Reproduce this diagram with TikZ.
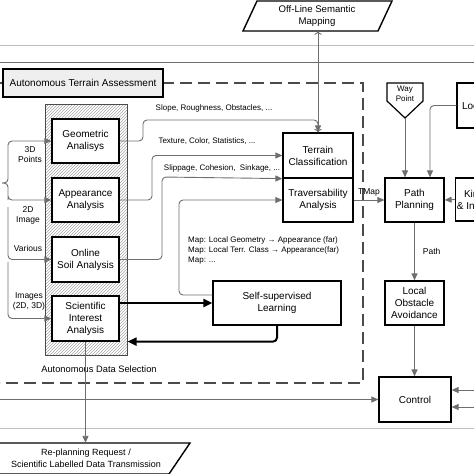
\documentclass[tikz,border=0pt]{standalone}
\usepackage{fontspec}
\setmainfont{Liberation Sans}
\usetikzlibrary{arrows.meta,calc,patterns}
\definecolor{wire}{HTML}{6E6E6E}
\definecolor{rule}{HTML}{BDBDBD}
\definecolor{frame}{HTML}{4A4A4A}
\definecolor{hatch}{HTML}{A8A8A8}
\definecolor{tag}{HTML}{EFEFEF}

\begin{document}
\begin{tikzpicture}[x=1pt,y=-1pt,
  box/.style={draw=black,line width=1.2pt,fill=white,align=center,inner sep=1pt,font=\fontsize{10}{12}\selectfont},
  conn/.style={draw=wire,line width=0.9pt,rounded corners=4pt,-{Triangle[width=6pt,length=7pt]}},
  bold/.style={draw=black,line width=2pt,rounded corners=4pt,-{Triangle[width=8pt,length=9pt]}},
  note/.style={font=\fontsize{8}{10}\selectfont,inner sep=0pt},
  side/.style={font=\fontsize{8.5}{10}\selectfont,align=center,inner sep=0pt}]
  \useasboundingbox (0,0) rectangle (474,474);

  % Horizontal separators of the enclosing figure.
  \draw[rule,line width=0.8pt] (0,45) -- (474,45);
  \draw[wire,line width=1pt] (0,62) -- (474,62);
  \draw[rule,line width=0.8pt] (0,428) -- (474,428);

  % Dashed frame of the terrain assessment block with its title tag.
  \draw[frame,line width=1.1pt,dash pattern=on 12pt off 6pt] (0,83) -- (363,83) -- (363,383) -- (0,383);
  \node[draw=black,line width=1.1pt,fill=tag,minimum width=160,minimum height=28,inner sep=0pt,
        font=\fontsize{10}{12}\selectfont] (ata) at (83,83) {Autonomous Terrain Assessment};

  % Hatched column: autonomous data selection.
  \node[draw=frame,line width=1pt,pattern=north east lines,pattern color=hatch,
        minimum width=82,minimum height=251,inner sep=0pt] (hatch) at (86,229.5) {};
  \node[box,minimum width=67,minimum height=44] (geo) at (85.5,141) {Geometric\\Analisys};
  \node[box,minimum width=67,minimum height=44] (app) at (85.5,200) {Appearance\\Analysis};
  \node[box,minimum width=67,minimum height=45] (soil) at (85.5,259.5) {Online\\Soil Analysis};
  \node[box,minimum width=67,minimum height=45] (sci) at (85.5,318.5) {Scientific\\Interest\\Analysis};
  \node[side,font=\fontsize{9.3}{11}\selectfont] (ads) at (99,369) {Autonomous Data Selection};

  % Classification, traversability and learning.
  \node[box,minimum width=70,minimum height=45] (terr) at (318,155.5) {Terrain\\Classification};
  \node[box,minimum width=70,minimum height=44] (trav) at (318,200) {Traversability\\Analysis};
  \node[box,minimum width=128,minimum height=44] (self) at (277,303) {Self-supervised\\Learning};

  % Navigation side.
  \draw[black,line width=1.2pt,fill=white] (387,83) -- (423,83) -- (423,101) -- (405,118) -- (387,101) -- cycle;
  \node[note,align=center] (way) at (405,94) {Way\\Point};
  \coordinate (waytip) at (405,118);
  \node[box,minimum width=63,minimum height=45] (loc) at (488.5,105.5) {Localization};
  \node[box,minimum width=59,minimum height=44] (path) at (414.5,200) {Path\\Planning};
  \node[box,minimum width=63,minimum height=43] (kin) at (488.5,199.5) {Kinematics\\\& Inertial Data};
  \node[box,minimum width=59,minimum height=44] (loa) at (414.5,303) {Local\\Obstacle\\Avoidance};
  \node[box,minimum width=72,minimum height=45] (ctrl) at (415,399.5) {Control};

  % Off-line and transmission parallelograms.
  \draw[black,line width=1.4pt,fill=white] (257,1) -- (392,1) -- (378,31) -- (243,31) -- cycle;
  \node[inner sep=0pt,minimum height=30,align=center,font=\fontsize{9.6}{12.5}\selectfont] (offline) at (317,16) {Off-Line Semantic\\Mapping};
  \draw[black,line width=1.4pt,fill=white] (-40,443) -- (190,443) -- (169,474) -- (-60,474) -- cycle;
  \node[inner sep=0pt,minimum height=30,align=center,font=\fontsize{9}{12}\selectfont] (replan) at (86,458) {Re-planning Request /\\Scientific Labelled Data Transmission};

  % Inputs on the left.
  \coordinate (brace) at (2,183);
  \coordinate (varin) at (8,207);
  \coordinate (imgin) at (8,262);
  \draw[conn] (brace) -| (8,170) |- (geo.west);
  \draw[conn] (brace) -| (8,196) |- (app.west);
  \draw[conn] (varin) |- (soil.west);
  \draw[conn] (imgin) |- (sci.west);
  \node[side] (pts) at (30,155) {3D\\Points};
  \node[side] (img) at (28,215) {2D\\Image};
  \node[side] (var) at (28,248) {Various};
  \node[side] (imgs) at (29,301) {Images\\(2D, 3D)};

  % Features towards classification.
  \draw[conn] (geo.east) -| (143,120) -| (terr.north);
  \draw[conn] (app.east) -| (152,155.5) -- (terr.west);
  \draw[conn] (soil.east) -| (162,177) -- (terr.south west);
  \node[note] (slope) at (214,108) {Slope, Roughness, Obstacles, ...};
  \node[note] (tex) at (207,141) {Texture, Color, Statistics, ...};
  \node[note] (slip) at (222,168) {Slippage, Cohesion,\; Sinkage, ...};
  \draw[conn,<->] (terr.north) -- (terr.north |- offline.south);

  % Learning loop.
  \draw[conn] ($(self.west)+(0,-8)$) -| (179,200) -- (trav.west);
  \node[note,align=left,anchor=north west] (maps) at (188,236)
    {Map: Local Geometry → Appearance (far)\\Map: Local Terr. Class → Appearance(far)\\Map: ...};
  \draw[bold] (sci.east |- self.west) -- (self.west);
  \draw[bold] (self.south) |- (sci.south -| hatch.east);
  \draw[conn] (sci.south) -- (sci.south |- replan.north);

  % Planning chain.
  \draw[conn] (trav.east) -- node[above,side,yshift=3pt] {TMap} (path.west);
  \draw[conn] (waytip) -- (waytip |- path.north);
  \draw[conn] (loc.west) -| ($(path.north)+(15.5,0)$);
  \draw[conn] (kin.west) -- (path.east);
  \draw[conn] (path.south) -- node[right,side,xshift=8pt] {Path} (loa.north);
  \draw[conn] (loa.south) -- (loa.south |- ctrl.north);
  \coordinate (ctlin) at (0,399.5);
  \coordinate (rin1) at (474,390);
  \coordinate (rin2) at (474,407);
  \draw[conn] (ctlin) -- (ctrl.west);
  \draw[conn] (rin1) -- (rin1 -| ctrl.east);
  \draw[conn] (rin2) -- (rin2 -| ctrl.east);
\end{tikzpicture}
\end{document}
